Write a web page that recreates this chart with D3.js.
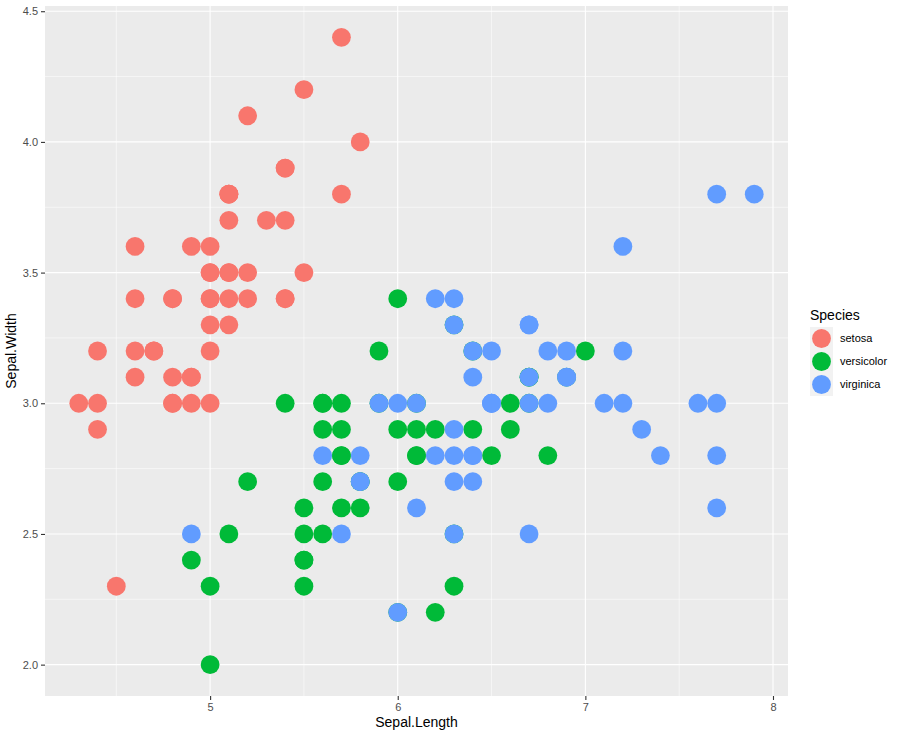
<!DOCTYPE html>
<html>
<head>
<meta charset="utf-8">
<script src="https://cdn.jsdelivr.net/npm/d3@7"></script>
<style>
  body { margin: 0; background: #fff; }
  svg { font-family: "Liberation Sans", Arial, sans-serif; }
</style>
</head>
<body>
<script>
/** Data: iris sepal measurements, in row order */
const species = ["setosa", "versicolor", "virginica"];
const speciesColors = ["#F8766D", "#00BA38", "#619CFF"];

const setosaLength = [5.1,4.9,4.7,4.6,5.0,5.4,4.6,5.0,4.4,4.9,5.4,4.8,4.8,4.3,5.8,5.7,5.4,5.1,5.7,5.1,5.4,5.1,4.6,5.1,4.8,5.0,5.0,5.2,5.2,4.7,4.8,5.4,5.2,5.5,4.9,5.0,5.5,4.9,4.4,5.1,5.0,4.5,4.4,5.0,5.1,4.8,5.1,4.6,5.3,5.0];
const setosaWidth = [3.5,3.0,3.2,3.1,3.6,3.9,3.4,3.4,2.9,3.1,3.7,3.4,3.0,3.0,4.0,4.4,3.9,3.5,3.8,3.8,3.4,3.7,3.6,3.3,3.4,3.0,3.4,3.5,3.4,3.2,3.1,3.4,4.1,4.2,3.1,3.2,3.5,3.6,3.0,3.4,3.5,2.3,3.2,3.5,3.8,3.0,3.8,3.2,3.7,3.3];
const versicolorLength = [7.0,6.4,6.9,5.5,6.5,5.7,6.3,4.9,6.6,5.2,5.0,5.9,6.0,6.1,5.6,6.7,5.6,5.8,6.2,5.6,5.9,6.1,6.3,6.1,6.4,6.6,6.8,6.7,6.0,5.7,5.5,5.5,5.8,6.0,5.4,6.0,6.7,6.3,5.6,5.5,5.5,6.1,5.8,5.0,5.6,5.7,5.7,6.2,5.1,5.7];
const versicolorWidth = [3.2,3.2,3.1,2.3,2.8,2.8,3.3,2.4,2.9,2.7,2.0,3.0,2.2,2.9,2.9,3.1,3.0,2.7,2.2,2.5,3.2,2.8,2.5,2.8,2.9,3.0,2.8,3.0,2.9,2.6,2.4,2.4,2.7,2.7,3.0,3.4,3.1,2.3,3.0,2.5,2.6,3.0,2.6,2.3,2.7,3.0,2.9,2.9,2.5,2.8];
const virginicaLength = [6.3,5.8,7.1,6.3,6.5,7.6,4.9,7.3,6.7,7.2,6.5,6.4,6.8,5.7,5.8,6.4,6.5,7.7,7.7,6.0,6.9,5.6,7.7,6.3,6.7,7.2,6.2,6.1,6.4,7.2,7.4,7.9,6.4,6.3,6.1,7.7,6.3,6.4,6.0,6.9,6.7,6.9,5.8,6.8,6.7,6.7,6.3,6.5,6.2,5.9];
const virginicaWidth = [3.3,2.7,3.0,2.9,3.0,3.0,2.5,2.9,2.5,3.6,3.2,2.7,3.0,2.5,2.8,3.2,3.0,3.8,2.6,2.2,3.2,2.8,2.8,2.7,3.3,3.2,2.8,3.0,2.8,3.0,2.8,3.8,2.8,2.8,2.6,3.0,3.4,3.1,3.0,3.1,3.1,3.1,2.7,3.2,3.3,3.0,2.5,3.0,3.4,3.0];

const xTicks = [5, 6, 7, 8];
const xMinor = [4.5, 5.5, 6.5, 7.5];
const yTicks = [2.0, 2.5, 3.0, 3.5, 4.0, 4.5];
const yMinor = [2.25, 2.75, 3.25, 3.75, 4.25];

/** Layout */
const width = 901;
const height = 738;
const panel = { left: 45, top: 6, right: 788, bottom: 696 };
const pointRadius = 9.4;

function buildRows() {
  const lengths = [setosaLength, versicolorLength, virginicaLength];
  const widths = [setosaWidth, versicolorWidth, virginicaWidth];
  let rows = [];
  species.forEach((s, i) => {
    lengths[i].forEach((len, j) => {
      rows.push({ species: s, length: len, width: widths[i][j] });
    });
  });
  return rows;
}

const rows = buildRows();

// ggplot-like 5% expansion around the data range
const xExtent = d3.extent(rows, d => d.length);
const yExtent = d3.extent(rows, d => d.width);
const xPad = (xExtent[1] - xExtent[0]) * 0.05;
const yPad = (yExtent[1] - yExtent[0]) * 0.05;

const x = d3.scaleLinear()
  .domain([xExtent[0] - xPad, xExtent[1] + xPad])
  .range([panel.left, panel.right]);
const y = d3.scaleLinear()
  .domain([yExtent[0] - yPad, yExtent[1] + yPad])
  .range([panel.bottom, panel.top]);
const color = d3.scaleOrdinal().domain(species).range(speciesColors);

const svg = d3.select("body").append("svg")
  .attr("width", width)
  .attr("height", height);

// panel background
svg.append("rect")
  .attr("x", panel.left)
  .attr("y", panel.top)
  .attr("width", panel.right - panel.left)
  .attr("height", panel.bottom - panel.top)
  .attr("fill", "#EBEBEB");

const grid = svg.append("g");
// minor grid
grid.selectAll(".xminor").data(xMinor).enter().append("line")
  .attr("x1", d => x(d)).attr("x2", d => x(d))
  .attr("y1", panel.top).attr("y2", panel.bottom)
  .attr("stroke", "#fff").attr("stroke-width", 0.55);
grid.selectAll(".yminor").data(yMinor).enter().append("line")
  .attr("y1", d => y(d)).attr("y2", d => y(d))
  .attr("x1", panel.left).attr("x2", panel.right)
  .attr("stroke", "#fff").attr("stroke-width", 0.55);
// major grid
grid.selectAll(".xmajor").data(xTicks).enter().append("line")
  .attr("x1", d => x(d)).attr("x2", d => x(d))
  .attr("y1", panel.top).attr("y2", panel.bottom)
  .attr("stroke", "#fff").attr("stroke-width", 1.1);
grid.selectAll(".ymajor").data(yTicks).enter().append("line")
  .attr("y1", d => y(d)).attr("y2", d => y(d))
  .attr("x1", panel.left).attr("x2", panel.right)
  .attr("stroke", "#fff").attr("stroke-width", 1.1);

// points, drawn in row order
svg.append("g").selectAll("circle")
  .data(rows)
  .enter()
  .append("circle")
  .attr("cx", d => x(d.length))
  .attr("cy", d => y(d.width))
  .attr("r", pointRadius)
  .attr("fill", d => color(d.species));

// axes
const xAxis = svg.append("g")
  .attr("transform", "translate(0," + panel.bottom + ")")
  .call(d3.axisBottom(x).tickValues(xTicks).tickSize(4).tickPadding(3).tickFormat(d3.format("d")));
const yAxis = svg.append("g")
  .attr("transform", "translate(" + panel.left + ",0)")
  .call(d3.axisLeft(y).tickValues(yTicks).tickSize(4).tickPadding(3).tickFormat(d3.format(".1f")));

[xAxis, yAxis].forEach(a => {
  a.select(".domain").remove();
  a.selectAll(".tick line").attr("stroke", "#333333").attr("stroke-width", 1.1);
  a.selectAll(".tick text")
    .attr("fill", "#4D4D4D")
    .attr("font-size", "11px")
    .attr("font-family", "Liberation Sans, Arial, sans-serif");
});

// axis titles
svg.append("text")
  .attr("x", (panel.left + panel.right) / 2)
  .attr("y", 727)
  .attr("text-anchor", "middle")
  .attr("font-size", "14px")
  .attr("fill", "#000")
  .text("Sepal.Length");
svg.append("text")
  .attr("transform", "translate(16," + ((panel.top + panel.bottom) / 2) + ") rotate(-90)")
  .attr("text-anchor", "middle")
  .attr("font-size", "14px")
  .attr("fill", "#000")
  .text("Sepal.Width");

// legend
const legend = svg.append("g")
  .attr("transform", "translate(810,327)");
legend.append("text")
  .attr("x", 0)
  .attr("y", -7)
  .attr("font-size", "14px")
  .attr("fill", "#000")
  .text("Species");
species.forEach((s, i) => {
  legend.append("rect")
    .attr("x", 0)
    .attr("y", i * 23)
    .attr("width", 23)
    .attr("height", 23)
    .attr("fill", "#F2F2F2");
  legend.append("circle")
    .attr("cx", 11.5)
    .attr("cy", i * 23 + 11.5)
    .attr("r", pointRadius)
    .attr("fill", speciesColors[i]);
  legend.append("text")
    .attr("x", 30)
    .attr("y", i * 23 + 11.5)
    .attr("dy", "0.35em")
    .attr("font-size", "11px")
    .attr("fill", "#000")
    .text(s);
});
</script>
</body>
</html>
